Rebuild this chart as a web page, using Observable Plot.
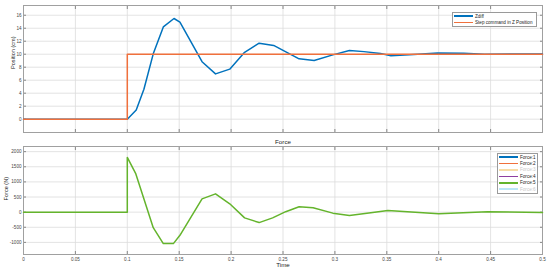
<!DOCTYPE html>
<html>
<head>
<meta charset="utf-8">
<script src="https://cdn.jsdelivr.net/npm/d3@7"></script>
<script src="https://cdn.jsdelivr.net/npm/@observablehq/plot@0.6"></script>
<style>
  html, body { margin: 0; padding: 0; background: #fff; }
  #wrap { position: relative; width: 550px; height: 272px; overflow: hidden; font-family: "Liberation Sans", Arial, sans-serif; }
  #wrap svg { position: absolute; left: 0; overflow: visible; }
  .legend { position: absolute; background: #fff; border: 1px solid #9a9a9a; box-sizing: border-box; font-size: 4.6px; color: #222; padding: 0.5px 1px; }
  .legend .row { display: flex; align-items: center; white-space: nowrap; }
  .legend .sw { width: 19px; height: 1.6px; margin-right: 2px; flex: none; }
  .legend .faded { color: #c8c8c8; }
</style>
</head>
<body>
<div id="wrap"></div>
<script>
// ---- data ----
const zTime  = [0, 0.1, 0.1086, 0.116, 0.125, 0.1347, 0.145, 0.1507, 0.172, 0.185, 0.1987, 0.213, 0.227, 0.241, 0.2655, 0.28, 0.298, 0.314, 0.328, 0.344, 0.354, 0.376, 0.399, 0.424, 0.444, 0.5];
const zdiff  = [0, 0, 1.4, 4.6, 10.06, 14.2, 15.5, 14.95, 8.85, 6.97, 7.7, 10.3, 11.7, 11.35, 9.29, 9.02, 9.9, 10.57, 10.4, 10.1, 9.78, 9.95, 10.2, 10.15, 10.0, 10.05];
const stepTime = [0, 0.1, 0.1, 0.5];
const stepCmd  = [0, 0, 10, 10];
const fTime  = [0, 0.1, 0.1, 0.108, 0.125, 0.1347, 0.1444, 0.1507, 0.172, 0.185, 0.1987, 0.213, 0.227, 0.240, 0.2526, 0.2655, 0.279, 0.298, 0.314, 0.3346, 0.351, 0.4, 0.447, 0.5];
const force5 = [0, 0, 1810, 1283, -513, -1040, -1040, -766, 440, 605, 276, -190, -345, -190, 15, 180, 145, -33, -109, -20, 56, -53, 13, -10];
const xTicks = [0, 0.05, 0.1, 0.15, 0.2, 0.25, 0.3, 0.35, 0.4, 0.45, 0.5];
const posTicks = [0, 2, 4, 6, 8, 10, 12, 14, 16];
const forceTicks = [-1000, -500, 0, 500, 1000, 1500, 2000];
const topLegend = ["Zdiff", "Step command in Z Position"];
const forceLegend = ["Force:1", "Force:2", "Force:3", "Force:4", "Force:5", "Force:6"];

const C = { blue: "#0072BD", orange: "#F0703C", yellow: "#F6DDA6", purple: "#8E3FA0", green: "#64B42C", cyan: "#BDE6F8" };
const forceColors = [C.blue, C.orange, C.yellow, C.purple, C.green, C.cyan];
const faded = [false, false, true, false, false, true];

const zData = zTime.map((t, i) => ({t, v: zdiff[i]}));
const sData = stepTime.map((t, i) => ({t, v: stepCmd[i]}));
const fData = fTime.map((t, i) => ({t, v: force5[i]}));

const font = "Liberation Sans, Arial, sans-serif";
const gridStroke = "#dcdcdc";
const frameStroke = "#a0a0a0";

function common(yTicks) {
  return [
    Plot.gridX(xTicks, {stroke: gridStroke, strokeOpacity: 1, strokeWidth: 0.8}),
    Plot.gridY(yTicks, {stroke: gridStroke, strokeOpacity: 1, strokeWidth: 0.8}),
    Plot.axisY(yTicks, {anchor: "left", tickSize: -3, text: null, stroke: "#888", label: null}),
    Plot.axisY(yTicks, {anchor: "right", tickSize: -3, text: null, stroke: "#888", label: null}),
    Plot.axisY(yTicks, {anchor: "left", tickSize: 0, tickPadding: 2, fontSize: 4.6, fill: "#444", label: null, tickFormat: d => String(d)}),
    Plot.axisX(xTicks, {anchor: "bottom", tickSize: -3, text: null, stroke: "#888", label: null}),
    Plot.axisX(xTicks, {anchor: "top", tickSize: -3, text: null, stroke: "#888", label: null}),
  ];
}

// ---- top panel ----
const topPlot = Plot.plot({
  width: 550, height: 136,
  marginLeft: 23, marginRight: 8, marginTop: 5, marginBottom: 4,
  style: {fontFamily: font, background: "transparent"},
  x: {domain: [0, 0.5], axis: null},
  y: {domain: [-2.05, 17.5], axis: null},
  marks: [
    ...common(posTicks),
    Plot.frame({stroke: frameStroke}),
    Plot.line(zData, {x: "t", y: "v", stroke: C.blue, strokeWidth: 1.5}),
    Plot.line(sData, {x: "t", y: "v", stroke: C.orange, strokeWidth: 1.5}),
    Plot.text(["Position (cm)"], {frameAnchor: "left", dx: -10, rotate: -90, fontSize: 5.6, fill: "#222"})
  ]
});
topPlot.style.top = "0px";

// ---- bottom panel ----
const botPlot = Plot.plot({
  width: 550, height: 136,
  marginLeft: 23, marginRight: 8, marginTop: 10, marginBottom: 18,
  style: {fontFamily: font, background: "transparent"},
  x: {domain: [0, 0.5], axis: null},
  y: {domain: [-1400, 2170], axis: null},
  marks: [
    ...common(forceTicks),
    Plot.axisX(xTicks, {anchor: "bottom", tickSize: 0, tickPadding: 3, fontSize: 4.6, fill: "#444", label: null, tickFormat: d => String(d)}),
    Plot.frame({stroke: frameStroke}),
    Plot.line(fData, {x: "t", y: "v", stroke: C.green, strokeWidth: 1.5}),
    Plot.text(["Force (N)"], {frameAnchor: "left", dx: -17.5, rotate: -90, fontSize: 5.6, fill: "#222"}),
    Plot.text(["Force"], {frameAnchor: "top", dy: -6.5, fontSize: 6.2, fill: "#222"}),
    Plot.text(["Time"], {frameAnchor: "bottom", dy: 12, fontSize: 6.2, fill: "#222"})
  ]
});
botPlot.style.top = "136px";

const wrap = document.getElementById("wrap");
wrap.appendChild(topPlot);
wrap.appendChild(botPlot);

function legend(labels, colors, fadedFlags, left, topPx, width, rowH) {
  const div = document.createElement("div");
  div.className = "legend";
  div.style.left = left + "px";
  div.style.top = topPx + "px";
  div.style.width = width + "px";
  labels.forEach((lab, i) => {
    const row = document.createElement("div");
    row.className = "row";
    row.style.height = rowH + "px";
    const sw = document.createElement("div");
    sw.className = "sw";
    sw.style.background = colors[i];
    const tx = document.createElement("span");
    tx.textContent = lab;
    if (fadedFlags && fadedFlags[i]) tx.className = "faded";
    row.appendChild(sw);
    row.appendChild(tx);
    div.appendChild(row);
  });
  wrap.appendChild(div);
}
legend(topLegend, [C.blue, C.orange], null, 452, 11.5, 85, 6.3);
legend(forceLegend, forceColors, faded, 497, 152.5, 41, 6.4);
</script>
</body>
</html>
